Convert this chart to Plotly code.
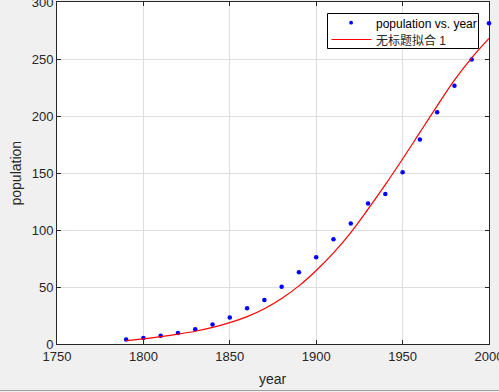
import plotly.graph_objects as go

years = [1790, 1800, 1810, 1820, 1830, 1840, 1850, 1860, 1870, 1880, 1890,
         1900, 1910, 1920, 1930, 1940, 1950, 1960, 1970, 1980, 1990, 2000]
population = [3.929, 5.308, 7.240, 9.638, 12.866, 17.069, 23.192, 31.443,
              38.558, 50.156, 62.948, 75.996, 91.972, 105.711, 123.203,
              131.669, 150.697, 179.323, 203.212, 226.505, 249.633, 281.422]

fit_years = [1790, 1800, 1810, 1820, 1830, 1840, 1850, 1860, 1870, 1880, 1890,
             1900, 1910, 1920, 1930, 1940, 1950, 1960, 1970, 1980, 1990, 2000]
fit_values = [3.0, 4.5, 6.4, 8.6, 11.2, 14.6, 18.7, 24.0, 31.0, 40.0, 51.0,
              64.5, 80.0, 97.8, 118.3, 139.8, 162.3, 185.6, 208.9, 231.4, 251.0, 268.0]

xticks = [1750, 1800, 1850, 1900, 1950, 2000]
yticks = [0, 50, 100, 150, 200, 250, 300]

series_names = ["population vs. year", "无标题拟合 1"]

font_fam = "Liberation Sans, Arial, Noto Sans CJK SC, sans-serif"
axis_col = "#262626"

L, R, T, B = 57, 10, 2, 48
W, H = 499, 392
PW, PH = W - L - R, H - T - B


def px(x):
    return (x - L) / PW


def py(y):
    return 1 - (y - T) / PH


fig = go.Figure()
fig.add_trace(go.Scatter(
    x=years, y=population, mode="markers", name=series_names[0],
    marker=dict(color="#0000ff", size=4.5, line=dict(width=0)),
    showlegend=False, cliponaxis=False,
))
fig.add_trace(go.Scatter(
    x=fit_years, y=fit_values, mode="lines", name=series_names[1],
    line=dict(color="#ff0000", width=1.2, shape="spline", smoothing=1.0),
    showlegend=False,
))

axis_common = dict(
    showline=True, linecolor=axis_col, linewidth=1, mirror="ticks",
    ticks="inside", ticklen=4, tickcolor=axis_col, tickwidth=1,
    showgrid=True, gridcolor="#dedede", gridwidth=1, zeroline=False,
    tickfont=dict(family=font_fam, size=13, color=axis_col),
    automargin=False, ticklabeloverflow="allow",
)

fig.update_layout(
    width=W, height=H,
    margin=dict(l=L, r=R, t=T, b=B, autoexpand=False),
    paper_bgcolor="#f0f0f0", plot_bgcolor="#ffffff",
    font=dict(family=font_fam, size=13, color=axis_col),
    xaxis=dict(range=[1750, 2000], tickvals=xticks,
               ticktext=[str(v) for v in xticks], **axis_common),
    yaxis=dict(range=[0, 300], tickvals=yticks,
               ticktext=[str(v) for v in yticks], **axis_common),
    showlegend=False,
)

# axis titles
fig.add_annotation(text="year", xref="paper", yref="paper",
                   x=0.5, y=py(379), xanchor="center", yanchor="middle",
                   showarrow=False, font=dict(family=font_fam, size=14, color=axis_col))
fig.add_annotation(text="population", xref="paper", yref="paper",
                   x=px(15.5), y=py(173), xanchor="center", yanchor="middle",
                   textangle=-90, showarrow=False,
                   font=dict(family=font_fam, size=14, color=axis_col))

# legend box (MATLAB style)
fig.add_shape(type="rect", xref="paper", yref="paper",
              x0=px(327.5), x1=px(478.5), y0=py(48.5), y1=py(13.5),
              fillcolor="#ffffff", line=dict(color="#000000", width=1), layer="above")
fig.add_shape(type="circle", xref="paper", yref="paper",
              x0=px(349.2), x1=px(353.0), y0=py(24.6), y1=py(20.8),
              fillcolor="#0000ff", line=dict(width=0), layer="above")
fig.add_shape(type="line", xref="paper", yref="paper",
              x0=px(331.5), x1=px(371.5), y0=py(39.5), y1=py(39.5),
              line=dict(color="#ff0000", width=1.2), layer="above")
fig.add_annotation(text=series_names[0], xref="paper", yref="paper",
                   x=px(373.5), y=py(24), xanchor="left", yanchor="middle",
                   showarrow=False, font=dict(family=font_fam, size=12, color="#000000"))
fig.add_annotation(text=series_names[1], xref="paper", yref="paper",
                   x=px(373.5), y=py(40), xanchor="left", yanchor="middle",
                   showarrow=False, font=dict(family=font_fam, size=12, color="#262626"))

# window bottom edge line
fig.add_shape(type="line", xref="paper", yref="paper",
              x0=px(0), x1=px(W), y0=py(390.5), y1=py(390.5),
              line=dict(color="#a0a0a0", width=1))

fig.write_html("out.html", config={"displayModeBar": False},
               post_script="document.body.style.margin='0';document.body.style.overflow='hidden';")
